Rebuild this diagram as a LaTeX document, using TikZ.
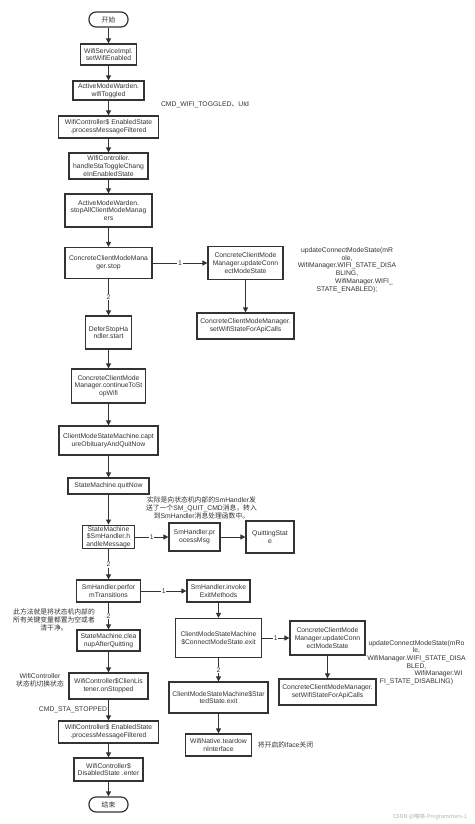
\documentclass[tikz,border=0pt]{standalone}
\usepackage{fontspec}
\setmainfont{Liberation Sans}
\newfontfamily\cjk{Noto Sans CJK SC}
\usetikzlibrary{arrows.meta}
\definecolor{ln}{HTML}{333333}
\begin{document}
\begin{tikzpicture}[x=1pt,y=-1pt,
 every node/.style={font=\fontsize{6.8}{7.7}\selectfont, text=ln},
 box/.style={draw=ln, line width=1.2pt, fill=white, align=center, inner sep=1pt},
 term/.style={box, rounded corners=7pt},
 arr/.style={draw=ln, line width=1pt, -{Triangle[length=5pt,width=5pt]}},
 lab/.style={fill=white, inner sep=0.8pt},
 note/.style={align=center, inner sep=0pt}]
\fill[white] (0,0) rectangle (474,824);
\path[use as bounding box] (0,0) rectangle (474,824);

% main column
\node[term, minimum width=39pt, minimum height=15pt] (s) at (108.5,19.5) {\cjk 开始};
\node[box, minimum width=56pt, minimum height=21pt] (n1) at (108.5,54.5) {WifiServiceImpl.\\setWifiEnabled};
\node[box, minimum width=71pt, minimum height=19pt] (n2) at (108.5,90.5) {ActiveModeWarden.\\wifiToggled};
\node[box, minimum width=100pt, minimum height=22pt] (n3) at (108.5,127) {WifiController\$ EnabledState\\.processMessageFiltered};
\node[box, minimum width=79pt, minimum height=26pt] (n4) at (108.5,166) {WifiController.\\handleStaToggleChang\\eInEnabledState};
\node[box, minimum width=87pt, minimum height=33pt] (n5) at (108.5,210.5) {ActiveModeWarden.\\stopAllClientModeManag\\ers};
\node[box, minimum width=87pt, minimum height=31pt] (n6) at (108.5,263) {ConcreteClientModeMana\\ger.stop};
\node[box, minimum width=46pt, minimum height=33pt] (n7) at (108.5,332.5) {DeferStopHa\\ndler.start};
\node[box, minimum width=74pt, minimum height=34pt] (n8) at (108.5,386) {ConcreteClientMode\\Manager.continueToSt\\opWifi};
\node[box, minimum width=99pt, minimum height=29pt] (n9) at (108.5,440.5) {ClientModeStateMachine.capt\\ureObituaryAndQuitNow};
\node[box, minimum width=81pt, minimum height=16pt] (n10) at (108.5,486) {StateMachine.quitNow};
\node[box, minimum width=52pt, minimum height=23pt] (n11) at (108.5,537) {StateMachine\\\$SmHandler.h\\andleMessage};
\node[box, minimum width=64pt, minimum height=22pt] (n12) at (108.5,591) {SmHandler.perfor\\mTransitions};
\node[box, minimum width=63pt, minimum height=21pt] (n13) at (108.5,640.5) {StateMachine.clea\\nupAfterQuitting};
\node[box, minimum width=79pt, minimum height=26pt] (n14) at (108.5,686) {WifiController\$ClienLis\\tener.onStopped};
\node[box, minimum width=100pt, minimum height=22pt] (n15) at (108.5,732) {WifiController\$ EnabledState\\.processMessageFiltered};
\node[box, minimum width=69pt, minimum height=23pt] (n16) at (108.5,769.5) {WifiController\$\\DisabledState .enter};
\node[term, minimum width=39pt, minimum height=15pt] (e) at (108.5,804.5) {\cjk 结束};

% upper right branch
\node[box, minimum width=75pt, minimum height=33pt] (r1) at (245.5,263) {ConcreteClientMode\\Manager.updateConn\\ectModeState};
\node[box, minimum width=97pt, minimum height=26pt] (r2) at (245.5,326) {ConcreteClientModeManager.\\setWifiStateForApiCalls};

% SmHandler branch
\node[box, minimum width=51pt, minimum height=28pt] (p1) at (194.5,537) {SmHandler.pr\\ocessMsg};
\node[box, minimum width=48pt, minimum height=32pt] (p2) at (270,537) {QuittingStat\\e};

% exit branch
\node[box, minimum width=63pt, minimum height=22pt] (m1) at (218.5,591) {SmHandler.invoke\\ExitMethods};
\node[box, minimum width=86pt, minimum height=39pt] (m2) at (218.5,638) {ClientModeStateMachine\\\$ConnectModeState.exit};
\node[box, minimum width=99pt, minimum height=31pt] (m3) at (218.5,697.5) {ClientModeStateMachine\$Star\\tedState.exit};
\node[box, minimum width=66pt, minimum height=22pt] (m4) at (218.5,745) {WifiNative.teardow\\nInterface};
\node[box, minimum width=75pt, minimum height=34pt] (q1) at (327.5,638) {ConcreteClientMode\\Manager.updateConn\\ectModeState};
\node[box, minimum width=97pt, minimum height=26pt] (q2) at (327.5,692) {ConcreteClientModeManager.\\setWifiStateForApiCalls};

% notes
\node[note] (t0) at (205,105) {CMD\_WIFI\_TOGGLED{\cjk 、}UId};
\node[note] (t1) at (347,270) {updateConnectModeState(mR\\ole,\\WifiManager.WIFI\_STATE\_DISA\\BLING,\\\hspace*{34pt}WifiManager.WIFI\_\\STATE\_ENABLED);};
\node[note] (t2) at (201.5,508) {{\cjk 实际是向状态机内部的}SmHandler{\cjk 发}\\{\cjk 送了一个}SM\_QUIT\_CMD{\cjk 消息，转入}\\{\cjk 到}SmHandler{\cjk 消息处理函数中。}};
\node[note] (t3) at (54,620) {\cjk 此方法就是将状态机内部的\\\cjk 所有关键变量都置为空或者\\\cjk 清干净。};
\node[note] (t4) at (416.5,662.5) {updateConnectModeState(mRo\\le,\\WifiManager.WIFI\_STATE\_DISA\\BLED,\\\hspace*{44pt}WifiManager.WI\\FI\_STATE\_DISABLING)};
\node[note] (t5) at (40,680.5) {WifiController\\\cjk 状态机切换状态};
\node[note] (t6) at (73,710) {CMD\_STA\_STOPPED};
\node[note] (t7) at (285.5,745) {{\cjk 将开启的}iface{\cjk 关闭}};
\node[note, text=black!30, font=\fontsize{5.5}{6}\selectfont] (wm) at (430,817) {\cjk CSDN @喵喵-Programmers-1};

% edges
\draw[arr] (s) -- (n1);
\draw[arr] (n1) -- (n2);
\draw[arr] (n2) -- (n3);
\draw[arr] (n3) -- (n4);
\draw[arr] (n4) -- (n5);
\draw[arr] (n5) -- (n6);
\draw[arr] (n6) -- node[lab]{1} (r1);
\draw[arr] (r1) -- (r2);
\draw[arr] (n6) -- node[lab]{2} (n7);
\draw[arr] (n7) -- (n8);
\draw[arr] (n8) -- (n9);
\draw[arr] (n9) -- (n10);
\draw[arr] (n10) -- (n11);
\draw[arr] (n11) -- node[lab]{1} (p1);
\draw[arr] (p1) -- (p2);
\draw[arr] (n11) -- node[lab]{2} (n12);
\draw[arr] (n12) -- node[lab]{1} (m1);
\draw[arr] (m1) -- (m2);
\draw[arr] (m2) -- node[lab]{1} (q1);
\draw[arr] (q1) -- (q2);
\draw[arr] (m2) -- node[lab]{2} (m3);
\draw[arr] (m3) -- (m4);
\draw[arr] (n12) -- node[lab]{2} (n13);
\draw[arr] (n13) -- (n14);
\draw[arr] (n14) -- (n15);
\draw[arr] (n15) -- (n16);
\draw[arr] (n16) -- (e);
\end{tikzpicture}
\end{document}
